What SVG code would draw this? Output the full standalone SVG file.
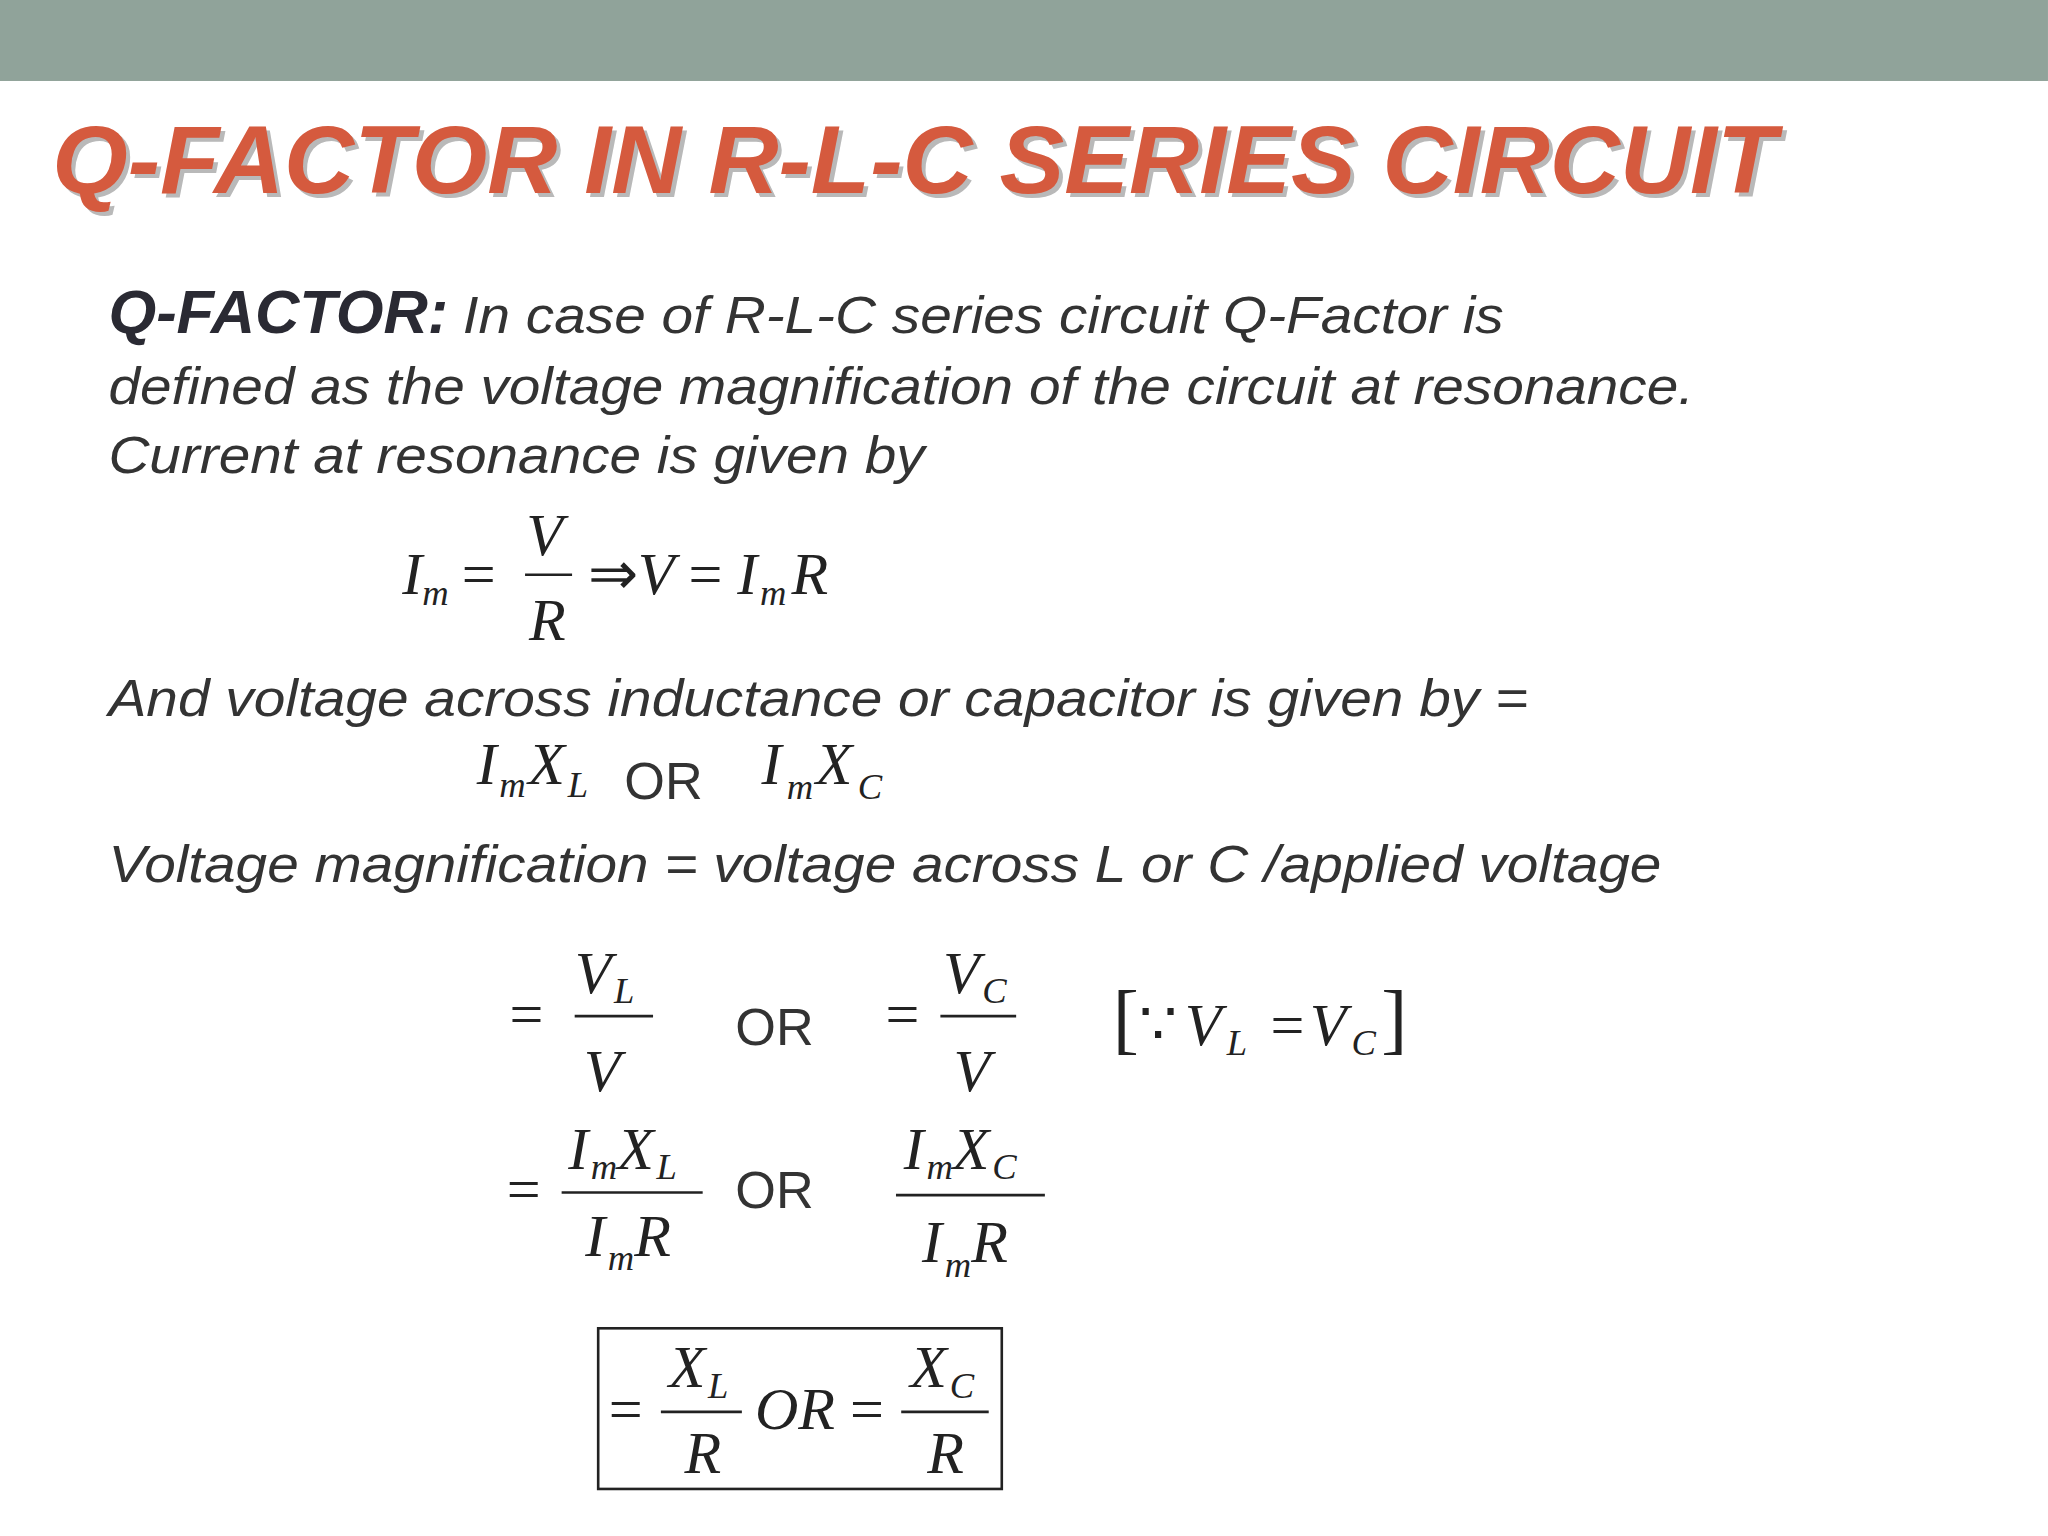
<svg xmlns="http://www.w3.org/2000/svg" width="2048" height="1536" viewBox="0 0 2048 1536">
<style>
.b{font-family:"Liberation Sans",Arial,sans-serif;font-style:italic;fill:#333;font-size:40px}
.m{font-family:"Liberation Serif","Times New Roman",serif;font-style:italic;fill:#222;font-size:46px}
.s{font-size:28px}
.u{font-family:"Liberation Sans",Arial,sans-serif;font-style:normal}
.o{font-family:"Liberation Serif",serif;font-style:normal}
line{stroke:#222;stroke-width:2}
</style>
<rect width="2048" height="1536" fill="#fff"/>
<g transform="scale(1.3061)">
<rect x="0" y="0" width="1568" height="62" fill="#90a39a"/>
<g id="title" font-family="Liberation Sans,Arial,sans-serif" font-weight="bold" font-style="italic" font-size="74">
<text x="43" y="151" fill="#b9b9b9" textLength="1320" lengthAdjust="spacingAndGlyphs">Q-FACTOR IN R-L-C SERIES CIRCUIT</text>
<text x="40" y="148" fill="#d55a3e" textLength="1320" lengthAdjust="spacingAndGlyphs">Q-FACTOR IN R-L-C SERIES CIRCUIT</text>
</g>
<g id="body">
<text class="b" x="83" y="255"><tspan font-weight="bold" font-size="47" fill="#2a2a33">Q-FACTOR:</tspan> <tspan textLength="797" lengthAdjust="spacingAndGlyphs">In case of R-L-C series circuit Q-Factor is</tspan></text>
<text class="b" x="83" y="309" textLength="1214" lengthAdjust="spacingAndGlyphs">defined as the voltage magnification of the circuit at resonance.</text>
<text class="b" x="83" y="362" textLength="625" lengthAdjust="spacingAndGlyphs">Current at resonance is given by</text>
<text class="b" x="83" y="548" textLength="1087" lengthAdjust="spacingAndGlyphs">And voltage across inductance or capacitor is given by =</text>
<text class="b" x="83" y="675" textLength="1189" lengthAdjust="spacingAndGlyphs">Voltage magnification = voltage across L or C /applied voltage</text>
</g>
<g id="eq1" class="m">
<text x="308" y="455">I<tspan class="s" dy="8">m</tspan><tspan class="o" dy="-8" dx="10">=</tspan></text>
<text x="403" y="425">V</text><line x1="402" y1="440" x2="438" y2="440"/><text x="405" y="490">R</text>
<text x="450" y="455"><tspan class="o">⇒</tspan>V <tspan class="o">=</tspan> I<tspan class="s" dy="8" dx="2">m</tspan><tspan dy="-8" dx="4">R</tspan></text>
</g>
<g id="eq2" class="m">
<text x="365" y="600">I<tspan class="s" dy="10" dx="2">m</tspan><tspan dy="-10" dx="2">X</tspan><tspan class="s" dy="10" dx="2">L</tspan></text>
<text class="b u" x="478" y="612" fill="#333">OR</text>
<text x="583" y="600">I<tspan class="s" dy="12" dx="4">m</tspan><tspan dy="-12" dx="2">X</tspan><tspan class="s" dy="12" dx="4">C</tspan></text>
</g>
<g id="eq3" class="m">
<text class="o" x="390" y="792">=</text>
<text x="440" y="760">V<tspan class="s" dy="8" dx="2">L</tspan></text><line x1="440" y1="778" x2="500" y2="778"/><text x="447" y="835">V</text>
<text class="b u" x="563" y="800" fill="#333">OR</text>
<text class="o" x="678" y="792">=</text>
<text x="722" y="760">V<tspan class="s" dy="8" dx="2">C</tspan></text><line x1="720" y1="778" x2="778" y2="778"/><text x="730" y="835">V</text>
<text x="852" y="800"><tspan class="o" font-size="60">[</tspan><tspan class="o">∵</tspan><tspan dx="6">V</tspan><tspan class="s" dy="8" dx="4">L</tspan><tspan class="o" dy="-8" dx="18">=</tspan><tspan dx="4">V</tspan><tspan class="s" dy="8" dx="4">C</tspan><tspan class="o" dy="-8" dx="4" font-size="60">]</tspan></text>
</g>
<g id="eq4" class="m">
<text class="o" x="388" y="926">=</text>
<text x="435" y="895">I<tspan class="s" dy="8" dx="2">m</tspan><tspan dy="-8">X</tspan><tspan class="s" dy="8" dx="2">L</tspan></text>
<line x1="430" y1="913" x2="538" y2="913"/>
<text x="448" y="962">I<tspan class="s" dy="10" dx="2">m</tspan><tspan dy="-10">R</tspan></text>
<text class="b u" x="563" y="925" fill="#333">OR</text>
<text x="692" y="895">I<tspan class="s" dy="8" dx="2">m</tspan><tspan dy="-8">X</tspan><tspan class="s" dy="8" dx="2">C</tspan></text>
<line x1="686" y1="915" x2="800" y2="915"/>
<text x="706" y="966">I<tspan class="s" dy="12" dx="2">m</tspan><tspan dy="-12">R</tspan></text>
</g>
<g id="eq5" class="m">
<rect x="458" y="1017" width="309" height="123" fill="none" stroke="#222" stroke-width="2"/>
<text class="o" x="466" y="1094">=</text>
<text x="512" y="1062">X<tspan class="s" dy="8" dx="2">L</tspan></text><line x1="506" y1="1081" x2="568" y2="1081"/><text x="524" y="1128">R</text>
<text x="578" y="1094">OR <tspan class="o">=</tspan></text>
<text x="697" y="1062">X<tspan class="s" dy="8" dx="2">C</tspan></text><line x1="690" y1="1081" x2="757" y2="1081"/><text x="710" y="1128">R</text>
</g>
</g>
</svg>
